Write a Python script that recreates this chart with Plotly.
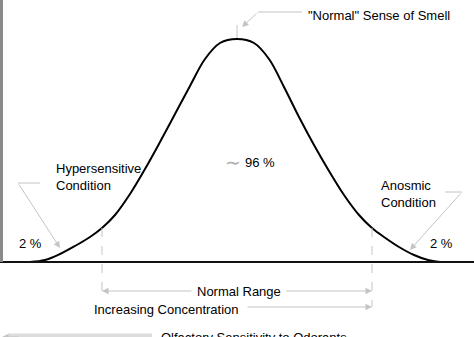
import plotly.graph_objects as go

# Distribution of olfactory sensitivity (arbitrary units along the concentration axis)
conc = [30, 45, 60, 75, 90, 102, 115, 130, 145, 160, 175, 190, 205, 220, 237,
        254, 269, 284, 299, 314, 329, 344, 359, 372, 384, 399, 414, 428, 440]
share = [0, 2, 8, 16, 25, 34, 47, 68, 93, 120, 148, 176, 203, 219, 223,
         219, 203, 175, 145, 117, 91, 67, 47, 34, 25, 15, 7, 2, 0]

range_lo, range_hi = 102, 372          # limits of the normal range
labels = {
    "peak": '"Normal" Sense of Smell',
    "hyper": "Hypersensitive<br>Condition",
    "anosmic": "Anosmic<br>Condition",
    "tail_lo": "2 %",
    "tail_hi": "2 %",
    "centre": "96 %",
    "range": "Normal Range",
    "axis": "Increasing Concentration",
    "title": "Olfactory Sensitivity to Odorants",
}

FONT = "Liberation Sans, Arial, sans-serif"
GREY = "#c4c4c4"
fs = 13

fig = go.Figure()
fig.add_trace(go.Scatter(x=conc, y=share, mode="lines",
                         line=dict(color="black", width=2, shape="spline", smoothing=1),
                         hoverinfo="skip", showlegend=False))

shapes = []
# baseline and left axis
shapes.append(dict(type="line", x0=0, x1=474, y0=0, y1=0, line=dict(color="#111", width=2)))
shapes.append(dict(type="line", x0=1.5, x1=1.5, y0=0, y1=262, line=dict(color="#8a8a8a", width=3)))

# dashed limits of the normal range
h_lo = share[conc.index(range_lo)]
h_hi = share[conc.index(range_hi)]
shapes.append(dict(type="line", x0=range_lo, x1=range_lo, y0=h_lo, y1=-33, line=dict(color=GREY, width=1, dash="dash")))
shapes.append(dict(type="line", x0=range_hi, x1=range_hi, y0=h_hi, y1=-45, line=dict(color=GREY, width=1, dash="dash")))

# callout leaders
shapes.append(dict(type="line", x0=258, x1=302, y0=250, y1=250, line=dict(color=GREY, width=1)))
shapes.append(dict(type="line", x0=237, x1=237, y0=share[conc.index(237)] + 1, y1=237, line=dict(color=GREY, width=1)))
shapes.append(dict(type="line", x0=18, x1=40, y0=79, y1=79, line=dict(color=GREY, width=1)))
shapes.append(dict(type="line", x0=445, x1=462, y0=70, y1=70, line=dict(color=GREY, width=1)))

# bottom band
shapes.append(dict(type="line", x0=8, x1=152, y0=-75, y1=-75, line=dict(color="#dcdcdc", width=7)))

ann = []
def arrow(tip, tail):
    ann.append(dict(x=tip[0], y=tip[1], ax=tail[0], ay=tail[1], xref="x", yref="y", axref="x", ayref="y",
                    text="", showarrow=True, arrowhead=2, arrowsize=1.3, arrowwidth=1, arrowcolor=GREY))

def text(x, y, s, anchor="left", size=fs, color="#000", yanchor="middle"):
    ann.append(dict(x=x, y=y, xref="x", yref="y", text=s, showarrow=False, xanchor=anchor, yanchor=yanchor,
                    align="left", font=dict(family=FONT, size=size, color=color)))

arrow((242, 235), (258, 250))
arrow((60, 14), (18, 79))
arrow((410, 12), (462, 70))
arrow((range_lo, -29), (193, -29))
arrow((range_hi, -29), (285, -29))
arrow((range_hi, -45), (246, -45))
arrow((2, -75), (20, -75))

text(306, 247, labels["peak"])
text(54, 85, labels["hyper"])
text(379, 68, labels["anosmic"])
text(17, 19, labels["tail_lo"])
text(428, 19, labels["tail_hi"])
text(223, 100, "∼", size=19, color="#aaaaaa")
text(243, 100, labels["centre"])
text(239, -29, labels["range"], anchor="center")
text(92, -47, labels["axis"])
text(159, -66, labels["title"], yanchor="top")

fig.update_layout(
    width=474, height=337, margin=dict(l=0, r=0, t=0, b=0),
    paper_bgcolor="white", plot_bgcolor="white",
    xaxis=dict(range=[0, 474], visible=False, fixedrange=True),
    yaxis=dict(range=[-75, 262], visible=False, fixedrange=True),
    shapes=shapes, annotations=ann,
)
fig.write_html("out.html")
